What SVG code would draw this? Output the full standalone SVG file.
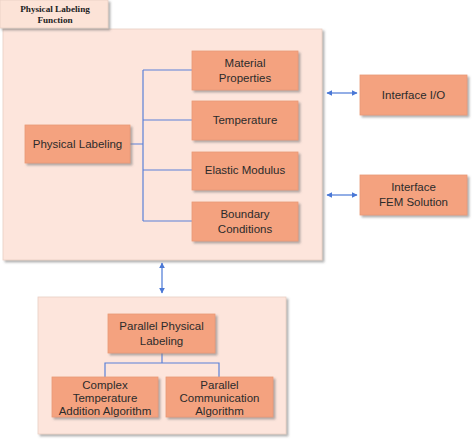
<svg xmlns="http://www.w3.org/2000/svg" width="474" height="442" viewBox="0 0 474 442">
<defs>
<filter id="sh" x="-10%" y="-10%" width="130%" height="140%">
<feDropShadow dx="2" dy="2" stdDeviation="1.2" flood-color="#7a7a7a" flood-opacity="0.6"/>
</filter>
<marker id="ah" viewBox="0 0 10 10" refX="9" refY="5" markerWidth="6" markerHeight="6" orient="auto-start-reverse" markerUnits="userSpaceOnUse">
<path d="M0,0 L10,5 L0,10 z" fill="#4a78d6"/>
</marker>
</defs>
<style>
.cont{fill:#fde5dc;stroke:#e9cfc4;stroke-width:0.8;filter:url(#sh)}
.node{fill:#f4a27f;stroke:#e99a76;stroke-width:0.8;filter:url(#sh)}
.t{font-family:"Liberation Sans",Arial,sans-serif;font-size:11.5px;fill:#2b2b2b;text-anchor:middle}
.title{font-family:"Liberation Serif","Times New Roman",serif;font-size:9.2px;font-weight:bold;fill:#222;text-anchor:middle}
.ln{fill:none;stroke:#5b80d8;stroke-width:1.2}
.ar{fill:none;stroke:#4a78d6;stroke-width:1.2;marker-start:url(#ah);marker-end:url(#ah)}
</style>
<rect width="474" height="442" fill="#ffffff"/>

<g id="main-container">
<rect class="cont" x="3" y="29" width="319" height="231"/>
</g>
<g id="title">
<rect x="0" y="0" width="108" height="28" fill="#fce3d7" stroke="#e9cfc4" stroke-width="0.8" filter="url(#sh)"/>
<text class="title" x="55" y="12">Physical Labeling</text>
<text class="title" x="55" y="23">Function</text>
</g>
<g id="bottom-container">
<rect class="cont" x="38" y="297" width="248" height="137"/>
</g>

<g id="connectors">
<path class="ln" d="M130,144 H143 M143,70 V221 M143,70 H192 M143,120 H192 M143,170 H192 M143,221 H192"/>
<path class="ln" d="M162,353 V363 M105,377 V363 H219 V377"/>
<line class="ar" x1="327" y1="93" x2="357" y2="93"/>
<line class="ar" x1="327" y1="195" x2="357" y2="195"/>
<line class="ar" x1="162" y1="263" x2="162" y2="293"/>
</g>

<g id="physical-labeling">
<rect class="node" x="25" y="125" width="105" height="38"/>
<text class="t" x="77.5" y="148">Physical Labeling</text>
</g>
<g id="material-properties">
<rect class="node" x="192" y="51" width="106" height="39"/>
<text class="t" x="245" y="67">Material</text>
<text class="t" x="245" y="82">Properties</text>
</g>
<g id="temperature">
<rect class="node" x="192" y="101" width="106" height="39"/>
<text class="t" x="245" y="124">Temperature</text>
</g>
<g id="elastic-modulus">
<rect class="node" x="192" y="152" width="106" height="38"/>
<text class="t" x="245" y="174">Elastic Modulus</text>
</g>
<g id="boundary-conditions">
<rect class="node" x="192" y="202" width="106" height="39"/>
<text class="t" x="245" y="218">Boundary</text>
<text class="t" x="245" y="233">Conditions</text>
</g>
<g id="interface-io">
<rect class="node" x="360" y="75" width="107" height="40"/>
<text class="t" x="413.5" y="99">Interface I/O</text>
</g>
<g id="interface-fem">
<rect class="node" x="360" y="175" width="107" height="40"/>
<text class="t" x="413.5" y="191">Interface</text>
<text class="t" x="413.5" y="206">FEM Solution</text>
</g>
<g id="parallel-physical-labeling">
<rect class="node" x="108" y="314" width="107" height="39"/>
<text class="t" x="161.5" y="330">Parallel Physical</text>
<text class="t" x="161.5" y="345">Labeling</text>
</g>
<g id="complex-temperature">
<rect class="node" x="52" y="377" width="106" height="40"/>
<text class="t" x="105" y="389">Complex</text>
<text class="t" x="105" y="402">Temperature</text>
<text class="t" x="105" y="415">Addition Algorithm</text>
</g>
<g id="parallel-communication">
<rect class="node" x="166" y="377" width="107" height="40"/>
<text class="t" x="219.5" y="389">Parallel</text>
<text class="t" x="219.5" y="402">Communication</text>
<text class="t" x="219.5" y="415">Algorithm</text>
</g>
</svg>
